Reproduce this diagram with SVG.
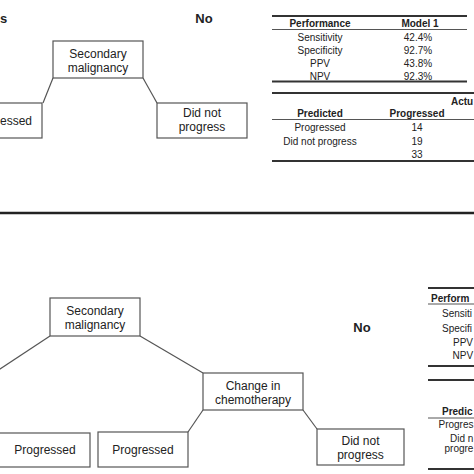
<svg xmlns="http://www.w3.org/2000/svg" width="474" height="474" viewBox="0 0 474 474">
<style>
text{font-family:"Liberation Sans",Arial,sans-serif;fill:#222}
.n{font-size:12px;text-anchor:middle}
.lbl{font-size:13px;font-weight:bold}
.t{font-size:10px;text-anchor:middle}
.s{font-size:10px;text-anchor:start}
.b{font-weight:bold}
.box{fill:#fff;stroke:#555;stroke-width:1.2}
.con{stroke:#555;stroke-width:1.2;fill:none}
.thick{stroke:#333;stroke-width:2}
.thin{stroke:#555;stroke-width:1}
</style>
<rect width="474" height="474" fill="#fff"/>

<!-- top section labels -->
<text class="lbl" x="0" y="23">s</text>
<text class="lbl" x="204" y="23" text-anchor="middle">No</text>

<g id="connectors">
<line class="con" x1="53" y1="78" x2="43" y2="103"/>
<line class="con" x1="143" y1="78" x2="157" y2="103"/>
<line class="con" x1="50" y1="336" x2="-15" y2="379"/>
<line class="con" x1="140" y1="336" x2="203" y2="373"/>
<line class="con" x1="203" y1="410" x2="188" y2="432"/>
<line class="con" x1="303" y1="410" x2="317" y2="429"/>
</g>

<g id="top-secondary">
<rect class="box" x="53" y="41" width="90" height="37"/>
<text class="n" x="98" y="58">Secondary</text>
<text class="n" x="98" y="72">malignancy</text>
</g>
<g id="top-progressed">
<rect class="box" x="-48" y="103" width="90" height="35"/>
<text x="0" y="125" font-size="12">essed</text>
</g>
<g id="top-didnot">
<rect class="box" x="157" y="103" width="90" height="35"/>
<text class="n" x="202" y="117">Did not</text>
<text class="n" x="202" y="131">progress</text>
</g>

<!-- top tables -->
<g id="top-table1">
<line class="thick" x1="272" y1="16" x2="467" y2="16"/>
<text class="t b" x="320" y="27">Performance</text>
<text class="t b" x="420" y="27">Model 1</text>
<line class="thin" x1="272" y1="29.5" x2="467" y2="29.5"/>
<text class="t" x="320" y="41">Sensitivity</text><text class="t" x="418" y="41">42.4%</text>
<text class="t" x="320" y="54">Specificity</text><text class="t" x="418" y="54">92.7%</text>
<text class="t" x="320" y="67">PPV</text><text class="t" x="418" y="67">43.8%</text>
<text class="t" x="320" y="80">NPV</text><text class="t" x="418" y="80">92.3%</text>
<line class="thick" x1="272" y1="81.5" x2="467" y2="81.5"/>
</g>
<g id="top-table2">
<line class="thick" x1="272" y1="93" x2="474" y2="93"/>
<text class="s b" x="451" y="105">Actu</text>
<text class="t b" x="320" y="117">Predicted</text>
<text class="t b" x="417" y="117">Progressed</text>
<line class="thin" x1="272" y1="119.5" x2="474" y2="119.5"/>
<text class="t" x="320" y="131">Progressed</text><text class="t" x="417" y="131">14</text>
<text class="t" x="320" y="145">Did not progress</text><text class="t" x="417" y="145">19</text>
<text class="t" x="417" y="158">33</text>
<line class="thick" x1="272" y1="161" x2="474" y2="161"/>
</g>

<!-- separator -->
<line x1="0" y1="213" x2="474" y2="213" stroke="#222" stroke-width="2.5"/>

<!-- bottom section -->
<text class="lbl" x="362" y="332" text-anchor="middle">No</text>

<g id="bot-secondary">
<rect class="box" x="50" y="298" width="90" height="38"/>
<text class="n" x="95" y="315">Secondary</text>
<text class="n" x="95" y="329">malignancy</text>
</g>
<g id="bot-change">
<rect class="box" x="203" y="373" width="100" height="37"/>
<text class="n" x="253" y="389.5">Change in</text>
<text class="n" x="253" y="403.5">chemotherapy</text>
</g>
<g id="bot-progressed1">
<rect class="box" x="-1" y="433" width="91" height="34"/>
<text class="n" x="45" y="454">Progressed</text>
</g>
<g id="bot-progressed2">
<rect class="box" x="98" y="432" width="90" height="35"/>
<text class="n" x="143" y="454">Progressed</text>
</g>
<g id="bot-didnot">
<rect class="box" x="317" y="429" width="87" height="36"/>
<text class="n" x="360.5" y="445">Did not</text>
<text class="n" x="360.5" y="459">progress</text>
</g>

<g id="bot-table1">
<line class="thick" x1="428" y1="288" x2="474" y2="288"/>
<text class="s b" x="431" y="302">Perform</text>
<line class="thin" x1="428" y1="304" x2="474" y2="304"/>
<text class="s" x="442" y="317">Sensiti</text>
<text class="s" x="442" y="332">Specifi</text>
<text class="s" x="453" y="346">PPV</text>
<text class="s" x="452.5" y="359">NPV</text>
<line class="thick" x1="428" y1="366" x2="474" y2="366"/>
</g>
<g id="bot-table2">
<line class="thick" x1="428" y1="380" x2="474" y2="380"/>
<text class="s b" x="442" y="415">Predic</text>
<line class="thin" x1="428" y1="418" x2="474" y2="418"/>
<text class="s" x="438.5" y="428">Progres</text>
<text class="s" x="450" y="442">Did n</text>
<text class="s" x="444.5" y="452">progre</text>
<line class="thick" x1="428" y1="469" x2="474" y2="469"/>
</g>
</svg>
